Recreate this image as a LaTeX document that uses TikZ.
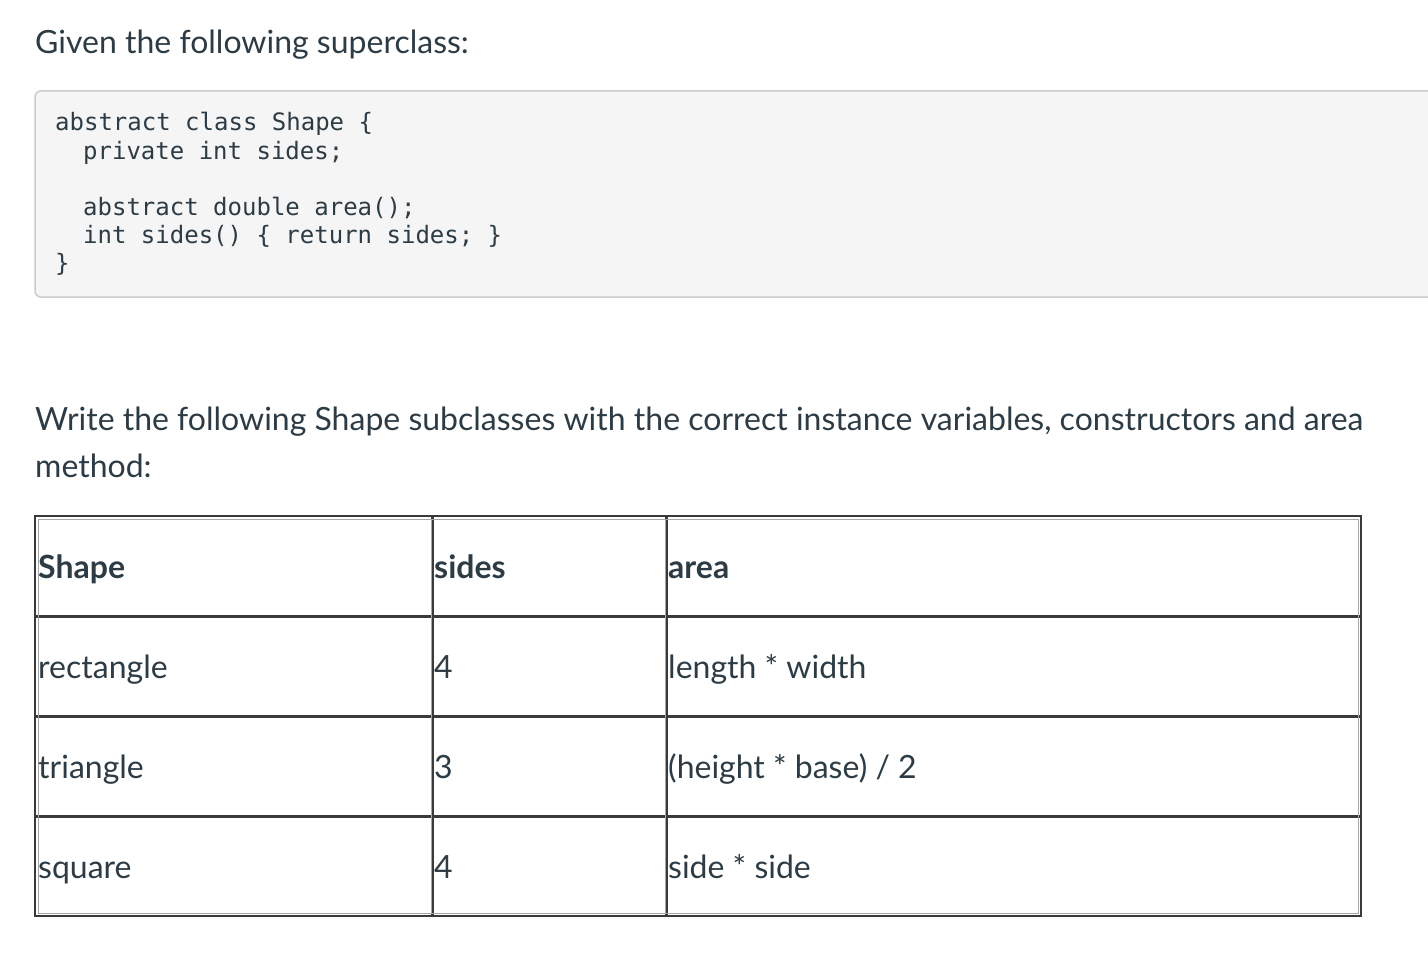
\documentclass[tikz,border=0pt]{standalone}
\usepackage{fontspec}
\setmainfont{Lato}
\setmonofont{DejaVu Sans Mono}
\definecolor{txt}{HTML}{2D3B45}
\definecolor{codebg}{HTML}{F5F5F5}
\definecolor{codebd}{HTML}{C7CDD1}
\definecolor{grid}{HTML}{3A3A3A}
\begin{document}
\begin{tikzpicture}[x=1pt,y=-1pt,
  para/.style={anchor=base west,inner sep=0pt,text=txt,font=\fontsize{32}{38}\selectfont},
  code/.style={anchor=base west,inner sep=0pt,text=txt,font=\ttfamily\fontsize{24}{28}\selectfont},
  cell/.style={anchor=base west,inner sep=0pt,text=txt,font=\fontsize{32}{38}\selectfont},
  hcell/.style={cell,font=\bfseries\fontsize{32}{38}\selectfont}]
\useasboundingbox (0,0) rectangle (1428,966);
\node[para] (t1) at (35,54) {Given the following superclass:};
\draw[codebd,fill=codebg,line width=1.5,rounded corners=6] (35,91) rectangle (1440,297);
\node[code] (c1) at (55,131) {abstract class Shape \{};
\node[code] (c2) at (83,159) {private int sides;};
\node[code] (c3) at (83,215) {abstract double area();};
\node[code] (c4) at (83,243) {int sides() \{ return sides; \}};
\node[code] (c5) at (55,271) {\}};
\node[para] (t2) at (35,430) {Write the following Shape subclasses with the correct instance variables, constructors and area};
\node[para] (t3) at (35,477) {method:};
\draw[grid,line width=2] (35,516) rectangle (1361,916);
\foreach \x in {432,666} \draw[grid,line width=3] (\x,516) -- (\x,916);
\foreach \y in {616,716,816} \draw[grid,line width=3] (35,\y) -- (1361,\y);
\draw[gray!70,line width=1] (38,519) rectangle (1358,913);
\foreach \x in {432,666} \draw[gray!70,line width=1] (\x-1,519) -- (\x-1,913);
\node[hcell] (h1) at (38,578) {Shape};
\node[hcell] (h2) at (434,578) {sides};
\node[hcell] (h3) at (668,578) {area};
\node[cell] (r1a) at (38,678) {rectangle};
\node[cell] (r1b) at (434,678) {4};
\node[cell] (r1c) at (668,678) {length * width};
\node[cell] (r2a) at (38,778) {triangle};
\node[cell] (r2b) at (434,778) {3};
\node[cell] (r2c) at (668,778) {(height * base) / 2};
\node[cell] (r3a) at (38,878) {square};
\node[cell] (r3b) at (434,878) {4};
\node[cell] (r3c) at (668,878) {side * side};
\end{tikzpicture}
\end{document}
